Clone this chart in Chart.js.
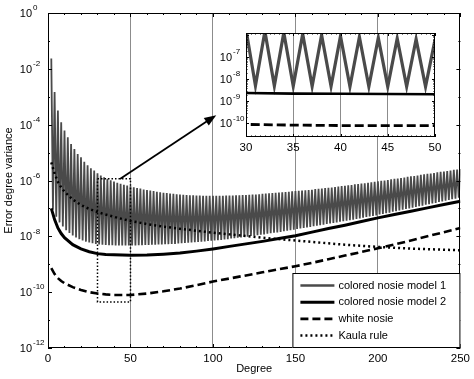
<!DOCTYPE html>
<html><head><meta charset="utf-8">
<script src="https://cdn.jsdelivr.net/npm/chart.js@4/dist/chart.umd.min.js"></script>
<style>
html,body{margin:0;padding:0;background:#fff;}
#wrap{position:relative;width:474px;height:379px;overflow:hidden;}
#main{position:absolute;left:0;top:0;}
#inset{position:absolute;left:205px;top:25px;}
</style></head><body>
<div id="wrap"><canvas id="main" width="474" height="379"></canvas><canvas id="inset" width="245" height="135"></canvas></div>
<script>
// ---------------- DATA ----------------
const degreeStart = 2, degreeEnd = 250;
// colored noise model 1: log10 values at even degrees 2..250 (peaks)
const model1PeakExp = [
 -1.63,-2.83,-3.49,-3.91,-4.21,-4.45,-4.69,-4.87,-5.05,-5.17,-5.33,-5.45,-5.56,-5.64,-5.74,-5.82,-5.88,-5.94,-5.99,-6.04,-6.08,-6.12,-6.15,-6.18,-6.21,
 -6.24,-6.27,-6.29,-6.32,-6.34,-6.36,-6.38,-6.40,-6.42,-6.44,-6.45,-6.47,-6.48,-6.49,-6.50,-6.51,-6.52,-6.53,-6.53,-6.54,-6.54,-6.55,-6.55,-6.55,-6.55,
 -6.55,-6.55,-6.55,-6.54,-6.54,-6.54,-6.53,-6.53,-6.52,-6.52,-6.51,-6.50,-6.50,-6.49,-6.48,-6.47,-6.46,-6.45,-6.44,-6.43,-6.42,-6.41,-6.40,-6.39,-6.38,
 -6.37,-6.36,-6.35,-6.34,-6.33,-6.31,-6.30,-6.29,-6.27,-6.26,-6.25,-6.23,-6.22,-6.20,-6.19,-6.17,-6.16,-6.14,-6.13,-6.11,-6.10,-6.08,-6.06,-6.05,-6.03,
 -6.01,-6.00,-5.98,-5.96,-5.94,-5.93,-5.91,-5.89,-5.87,-5.85,-5.84,-5.82,-5.80,-5.78,-5.76,-5.75,-5.73,-5.71,-5.69,-5.68,-5.66,-5.64,-5.62,-5.61,-5.59
];
// colored noise model 1: log10 values at odd degrees 3..249 (troughs)
const model1TroughExp = [
 -7.05,-7.30,-7.50,-7.65,-7.78,-7.88,-7.97,-8.04,-8.10,-8.15,-8.19,-8.22,-8.25,-8.27,-8.29,-8.30,-8.31,-8.32,-8.32,-8.33,-8.33,-8.33,-8.33,-8.33,
 -8.33,-8.33,-8.32,-8.32,-8.31,-8.31,-8.30,-8.30,-8.29,-8.29,-8.28,-8.28,-8.27,-8.27,-8.26,-8.25,-8.24,-8.23,-8.22,-8.21,-8.20,-8.19,-8.18,-8.17,-8.16,
 -8.15,-8.14,-8.13,-8.11,-8.10,-8.08,-8.07,-8.05,-8.04,-8.02,-8.01,-7.99,-7.98,-7.96,-7.94,-7.93,-7.91,-7.89,-7.87,-7.86,-7.84,-7.82,-7.80,-7.78,-7.76,
 -7.74,-7.72,-7.70,-7.68,-7.66,-7.64,-7.62,-7.60,-7.58,-7.56,-7.54,-7.52,-7.50,-7.48,-7.46,-7.44,-7.42,-7.40,-7.38,-7.36,-7.33,-7.31,-7.29,-7.27,-7.25,
 -7.22,-7.20,-7.17,-7.15,-7.12,-7.10,-7.07,-7.05,-7.02,-7.00,-6.97,-6.95,-6.92,-6.90,-6.87,-6.85,-6.82,-6.80,-6.77,-6.75,-6.72,-6.70,-6.67,-6.65,-6.62
];
const sparseDegrees = [2,4,6,8,10,15,20,25,30,35,40,45,50,60,70,80,90,100,110,120,130,140,150,160,170,180,190,200,210,220,230,240,250];
const model2Exp = [-7.0,-7.4,-7.7,-7.9,-8.05,-8.3,-8.45,-8.55,-8.62,-8.65,-8.66,-8.67,-8.68,-8.67,-8.64,-8.6,-8.53,-8.45,-8.36,-8.27,-8.18,-8.08,-7.98,-7.85,-7.72,-7.6,-7.47,-7.34,-7.22,-7.1,-6.98,-6.86,-6.74];
const whiteNoiseExp = [-9.14,-9.35,-9.5,-9.6,-9.68,-9.82,-9.92,-10.0,-10.05,-10.08,-10.1,-10.1,-10.1,-10.05,-9.97,-9.87,-9.75,-9.62,-9.51,-9.4,-9.29,-9.18,-9.07,-8.95,-8.82,-8.69,-8.56,-8.43,-8.29,-8.15,-8.0,-7.85,-7.7];
const kaulaExp = [-5.35,-5.75,-6.05,-6.25,-6.4,-6.68,-6.88,-7.02,-7.13,-7.22,-7.3,-7.38,-7.45,-7.56,-7.65,-7.73,-7.8,-7.87,-7.93,-7.99,-8.05,-8.1,-8.15,-8.2,-8.25,-8.3,-8.34,-8.38,-8.41,-8.44,-8.46,-8.48,-8.5];
const seriesLabels = ['colored nosie model 1','colored nosie model 2','white nosie','Kaula rule'];
const xTickValues = [0,50,100,150,200,250];
const yTickExponents = [0,-2,-4,-6,-8,-10,-12];
const insetXTicks = [30,35,40,45,50];
const insetYTickExponents = [-7,-8,-9,-10];
const zoomBoxDegrees = [30,50,50,30,30];
const zoomBoxExp = [-5.94,-5.94,-10.35,-10.35,-5.94];
const arrowStart = [43.6,-5.95];
const arrowEnd = [102,-3.66];

// ---------------- BUILD ----------------
const FONT = '"Liberation Sans", Arial, Helvetica, sans-serif';
const p10 = e => Math.pow(10, e);
const model1Points = [];
for (let d = degreeStart; d <= degreeEnd; d++) {
  const e = (d % 2 === 0) ? model1PeakExp[(d - 2) / 2] : model1TroughExp[(d - 3) / 2];
  model1Points.push({x: d, y: p10(e)});
}
const toPts = (xs, es) => xs.map((x, i) => ({x: x, y: p10(es[i])}));
const model2Points = toPts(sparseDegrees, model2Exp);
const whitePoints = toPts(sparseDegrees, whiteNoiseExp);
const kaulaPoints = toPts(sparseDegrees, kaulaExp);
const boxPoints = toPts(zoomBoxDegrees, zoomBoxExp);

const styles = [
  {color: '#4a4a4a', width: 1.8, dash: [], legendWidth: 2.5},
  {color: '#000', width: 3, dash: [], legendWidth: 3},
  {color: '#000', width: 2.6, dash: [8, 4], legendWidth: 2.6},
  {color: '#000', width: 2.5, dash: [2, 3], legendWidth: 2.5}
];

function powLabel(ctx, xRight, y, exp) {
  ctx.fillStyle = '#000';
  ctx.font = '11px ' + FONT;
  ctx.textAlign = 'right'; ctx.textBaseline = 'middle';
  ctx.fillText('10', xRight, y + 1);
  ctx.font = '8px ' + FONT;
  ctx.textAlign = 'left';
  ctx.fillText(String(exp), xRight + 1, y - 5);
}
function seg(ctx, x1, y1, x2, y2) { ctx.beginPath(); ctx.moveTo(x1, y1); ctx.lineTo(x2, y2); ctx.stroke(); }

const mainDecor = {
  id: 'mainDecor',
  afterDatasetsDraw(chart) {
    const ctx = chart.ctx, a = chart.chartArea, x = chart.scales.x, y = chart.scales.y;
    ctx.save();
    // arrow
    const sx = x.getPixelForValue(arrowStart[0]), sy = y.getPixelForValue(p10(arrowStart[1]));
    const ex = x.getPixelForValue(arrowEnd[0]), ey = y.getPixelForValue(p10(arrowEnd[1]));
    const ang = Math.atan2(ey - sy, ex - sx);
    ctx.strokeStyle = '#000'; ctx.fillStyle = '#000'; ctx.lineWidth = 1.8; ctx.setLineDash([]);
    seg(ctx, sx, sy, ex - 8 * Math.cos(ang), ey - 8 * Math.sin(ang));
    ctx.beginPath();
    ctx.moveTo(ex, ey);
    ctx.lineTo(ex - 12 * Math.cos(ang) + 4.5 * Math.sin(ang), ey - 12 * Math.sin(ang) - 4.5 * Math.cos(ang));
    ctx.lineTo(ex - 12 * Math.cos(ang) - 4.5 * Math.sin(ang), ey - 12 * Math.sin(ang) + 4.5 * Math.cos(ang));
    ctx.closePath(); ctx.fill();
    // frame
    ctx.lineWidth = 1; ctx.strokeStyle = '#000';
    ctx.strokeRect(Math.round(a.left) + 0.5, Math.round(a.top) + 0.5, Math.round(a.right - a.left) - 1, Math.round(a.bottom - a.top) - 1);
    // x ticks
    for (let v = 0; v <= 250; v += 10) {
      const px = Math.round(x.getPixelForValue(v)) + 0.5;
      const len = v % 50 === 0 ? 4 : 2;
      seg(ctx, px, a.bottom, px, a.bottom - len);
      seg(ctx, px, a.top, px, a.top + len);
    }
    // y ticks
    for (let e = 0; e >= -12; e--) {
      const py = Math.round(y.getPixelForValue(p10(e))) + 0.5;
      const len = e % 2 === 0 ? 4 : 2;
      seg(ctx, a.left, py, a.left + len, py);
      seg(ctx, a.right, py, a.right - len, py);
    }
    // y tick labels
    yTickExponents.forEach(e => powLabel(ctx, 32, y.getPixelForValue(p10(e)), e));
    // axis titles
    ctx.fillStyle = '#000'; ctx.font = '11px ' + FONT;
    ctx.textAlign = 'center'; ctx.textBaseline = 'middle';
    ctx.fillText('Degree', (a.left + a.right) / 2, 369);
    ctx.save(); ctx.translate(9, (a.top + a.bottom) / 2); ctx.rotate(-Math.PI / 2);
    ctx.fillText('Error degree variance', 0, 0); ctx.restore();
    // legend
    const L = a.right - 168, T = a.bottom - 75;
    ctx.fillStyle = '#fff'; ctx.fillRect(L, T, a.right - L, a.bottom - T);
    ctx.strokeStyle = '#000'; ctx.lineWidth = 1; ctx.setLineDash([]);
    ctx.strokeRect(L + 0.5, T + 0.5, a.right - L - 1, a.bottom - T - 1);
    seriesLabels.forEach((lab, i) => {
      const ry = T + 12.5 + i * 16.7;
      const st = styles[i];
      ctx.strokeStyle = st.color; ctx.lineWidth = st.legendWidth; ctx.setLineDash(st.dash);
      seg(ctx, L + 8, ry, L + 42, ry);
      ctx.setLineDash([]);
      ctx.fillStyle = '#000'; ctx.font = '11px ' + FONT; ctx.textAlign = 'left'; ctx.textBaseline = 'middle';
      ctx.fillText(lab, L + 46, ry);
    });
    ctx.restore();
  }
};

const gridColor = (lo, hi) => c => (c.tick && c.tick.value > lo && c.tick.value < hi) ? '#8c8c8c' : 'rgba(0,0,0,0)';

new Chart(document.getElementById('main'), {
  type: 'line',
  data: { datasets: [
    {label: seriesLabels[0], data: model1Points, borderColor: styles[0].color, borderWidth: styles[0].width, order: 10},
    {label: seriesLabels[1], data: model2Points, borderColor: styles[1].color, borderWidth: styles[1].width, order: 3},
    {label: seriesLabels[2], data: whitePoints, borderColor: styles[2].color, borderWidth: styles[2].width, borderDash: styles[2].dash, order: 4},
    {label: seriesLabels[3], data: kaulaPoints, borderColor: styles[3].color, borderWidth: styles[3].width, borderDash: styles[3].dash, order: 2},
    {label: 'zoom box', data: boxPoints, borderColor: '#000', borderWidth: 1.5, borderDash: [1.5, 2], order: 1}
  ]},
  options: {
    responsive: false, animation: false, devicePixelRatio: 1,
    layout: {padding: {top: 13, right: 11, left: 0, bottom: 0}},
    plugins: {legend: {display: false}, tooltip: {enabled: false}},
    elements: {point: {radius: 0}, line: {tension: 0}},
    scales: {
      x: {type: 'linear', min: 0, max: 250,
        afterFit: s => { s.height = 31; },
        afterBuildTicks: s => { s.ticks = xTickValues.map(v => ({value: v})); },
        ticks: {font: {family: FONT, size: 11.5}, color: '#000', padding: 4, maxRotation: 0, autoSkip: false},
        grid: {drawTicks: false, color: gridColor(0, 250), lineWidth: 1},
        border: {display: false}},
      y: {type: 'logarithmic', min: 1e-12, max: 1,
        afterFit: s => { s.width = 48; },
        ticks: {display: false}, grid: {display: false}, border: {display: false}}
    }
  },
  plugins: [mainDecor]
});

// ---------------- INSET ----------------
const insetDecor = {
  id: 'insetDecor',
  beforeDraw(chart) {
    const ctx = chart.ctx, a = chart.chartArea;
    ctx.save(); ctx.fillStyle = '#fff'; ctx.fillRect(a.left, a.top, a.right - a.left, a.bottom - a.top); ctx.restore();
  },
  afterDatasetsDraw(chart) {
    const ctx = chart.ctx, a = chart.chartArea, x = chart.scales.x, y = chart.scales.y;
    ctx.save();
    ctx.strokeStyle = '#000'; ctx.lineWidth = 1; ctx.setLineDash([]);
    ctx.strokeRect(Math.round(a.left) + 0.5, Math.round(a.top) + 0.5, Math.round(a.right - a.left) - 1, Math.round(a.bottom - a.top) - 1);
    for (let v = 30; v <= 50; v += 0.5) {
      const px = Math.round(x.getPixelForValue(v)) + 0.5;
      const len = v % 5 === 0 ? 3 : 1.5;
      seg(ctx, px, a.bottom, px, a.bottom - len);
      seg(ctx, px, a.top, px, a.top + len);
    }
    for (let e = -6; e >= -10; e--) {
      for (let m = 1; m <= 9; m++) {
        const v = m * p10(e);
        const py = y.getPixelForValue(v);
        if (py < a.top || py > a.bottom) continue;
        const pyr = Math.round(py) + 0.5;
        const len = m === 1 ? 3 : 1.5;
        seg(ctx, a.left, pyr, a.left + len, pyr);
        seg(ctx, a.right, pyr, a.right - len, pyr);
      }
    }
    insetYTickExponents.forEach(e => powLabel(ctx, 27, y.getPixelForValue(p10(e)), e));
    ctx.restore();
  }
};

new Chart(document.getElementById('inset'), {
  type: 'line',
  data: { datasets: [
    {label: seriesLabels[0], data: model1Points, borderColor: styles[0].color, borderWidth: 3.2, order: 10},
    {label: seriesLabels[1], data: model2Points, borderColor: '#000', borderWidth: 2.6, order: 2},
    {label: seriesLabels[2], data: whitePoints, borderColor: '#000', borderWidth: 2.8, borderDash: [9, 4], order: 3}
  ]},
  options: {
    responsive: false, animation: false, devicePixelRatio: 1,
    layout: {padding: {top: 8, right: 15, left: 0, bottom: 0}},
    plugins: {legend: {display: false}, tooltip: {enabled: false}},
    elements: {point: {radius: 0}, line: {tension: 0}},
    scales: {
      x: {type: 'linear', min: 30, max: 50,
        afterFit: s => { s.height = 23; },
        afterBuildTicks: s => { s.ticks = insetXTicks.map(v => ({value: v})); },
        ticks: {font: {family: FONT, size: 11.5}, color: '#000', padding: 4, maxRotation: 0, autoSkip: false},
        grid: {drawTicks: false, color: gridColor(30, 50), lineWidth: 1},
        border: {display: false}},
      y: {type: 'logarithmic', min: p10(-10.62), max: p10(-5.9),
        afterFit: s => { s.width = 41; },
        ticks: {display: false}, grid: {display: false}, border: {display: false}}
    }
  },
  plugins: [insetDecor]
});
</script>
</body></html>
